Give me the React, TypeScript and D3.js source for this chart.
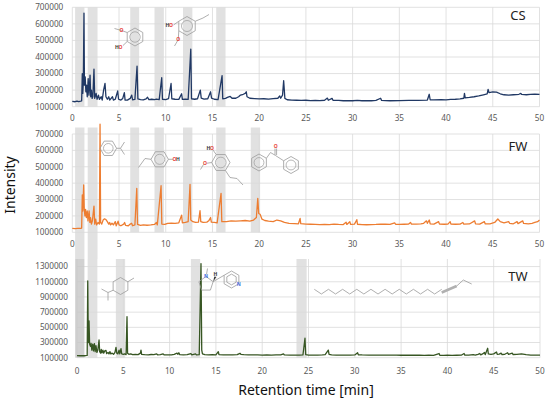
import React from "react";
import * as d3 from "d3";

type Pt = [number, number];

// retention time ticks (min) and intensity ticks
const timeTicks = [0, 5, 10, 15, 20, 25, 30, 35, 40, 45, 50];
const csTicks = [100000, 200000, 300000, 400000, 500000, 600000, 700000];
const fwTicks = [100000, 200000, 300000, 400000, 500000, 600000, 700000];
const twTicks = [100000, 300000, 500000, 700000, 900000, 1100000, 1300000];

// highlighted retention windows [start, end] in min
const csBands: Pt[] = [[0.3, 1.3], [1.65, 2.7], [6.2, 7.15], [8.8, 9.8], [11.85, 12.85], [15.4, 16.4]];
const fwBands: Pt[] = [[0.3, 1.3], [1.65, 2.7], [6.2, 7.15], [8.8, 9.8], [11.85, 12.85], [15.4, 16.4], [19.1, 20.1]];
const twBands: Pt[] = [[-0.2, 0.8], [1.15, 2.2], [4.2, 5.2], [12.3, 13.3], [23.7, 24.8]];

// chromatograms: [retention time, intensity]
const csTrace: Pt[] = [
  [0, 132000], [0.3, 130000], [0.5, 134000], [0.7, 131000], [0.9, 133000], [1.0, 135000],
  [1.07, 300000], [1.12, 180000], [1.18, 250000], [1.25, 665000], [1.3, 230000], [1.38, 280000],
  [1.45, 190000], [1.52, 230000], [1.6, 160000], [1.7, 270000], [1.78, 170000], [1.9, 290000],
  [1.97, 160000], [2.05, 200000], [2.12, 150000], [2.2, 160000], [2.32, 327000], [2.4, 150000],
  [2.55, 180000], [2.65, 145000], [2.8, 170000], [2.9, 145000], [3.1, 160000], [3.2, 140000],
  [3.35, 200000], [3.5, 241000], [3.6, 160000], [3.75, 145000], [3.9, 160000], [4.0, 140000],
  [4.3, 160000], [4.4, 140000], [4.6, 145000], [4.86, 195000], [4.95, 145000], [5.2, 140000],
  [5.4, 150000], [5.57, 185000], [5.65, 140000], [5.9, 140000], [6.2, 150000], [6.36, 170000],
  [6.45, 142000], [6.7, 144000], [6.93, 345000], [7.02, 147000], [7.3, 143000], [7.6, 141000],
  [7.9, 147000], [8.05, 157000], [8.2, 143000], [8.5, 145000], [8.8, 143000], [9.0, 146000],
  [9.3, 143000], [9.57, 275000], [9.65, 145000], [10.0, 143000], [10.3, 148000], [10.57, 240000],
  [10.65, 148000], [11.0, 145000], [11.4, 144000], [11.7, 178000], [11.78, 144000], [12.1, 146000],
  [12.4, 144000], [12.68, 448000], [12.76, 148000], [13.1, 145000], [13.4, 148000], [13.7, 200000],
  [13.8, 152000], [14.1, 146000], [14.5, 148000], [14.8, 190000], [14.9, 152000], [15.2, 145000],
  [15.6, 143000], [16.03, 287000], [16.1, 148000], [16.4, 150000], [16.6, 156000], [16.9, 162000],
  [17.1, 151000], [17.5, 151000], [17.8, 160000], [18.0, 170000], [18.3, 175000], [18.5, 180000],
  [18.62, 190000], [18.7, 160000], [19.0, 151000], [19.5, 149000], [20.0, 147000], [20.5, 148000],
  [21.0, 146000], [21.5, 149000], [22.0, 151000], [22.2, 165000], [22.3, 151000], [22.5, 170000],
  [22.62, 257000], [22.75, 150000], [23.0, 142000], [23.5, 140000], [24.0, 139000], [24.5, 138000],
  [25.0, 139000], [25.5, 137000], [26.0, 138000], [26.5, 137000], [27.0, 139000], [27.3, 152000],
  [27.4, 139000], [27.8, 150000], [27.9, 139000], [28.5, 138000], [29.0, 136000], [29.5, 137000],
  [30.0, 136000], [30.5, 138000], [31.0, 136000], [31.5, 137000], [32.0, 136000], [32.5, 138000],
  [33.0, 151000], [33.1, 138000], [33.5, 137000], [34.0, 136000], [35.0, 137000], [36.0, 138000],
  [37.0, 138000], [38.0, 140000], [38.2, 175000], [38.3, 142000], [38.7, 141000], [39.5, 142000],
  [40.0, 141000], [40.5, 144000], [41.0, 145000], [41.5, 147000], [41.9, 151000], [41.97, 180000],
  [42.05, 153000], [42.5, 156000], [43.0, 160000], [43.5, 165000], [44.0, 172000], [44.4, 178000],
  [44.5, 205000], [44.6, 185000], [45.0, 190000], [45.4, 188000], [45.8, 178000], [46.2, 172000],
  [46.7, 170000], [47.2, 172000], [47.8, 175000], [48.0, 180000], [48.1, 174000], [48.6, 172000],
  [49.0, 174000], [49.5, 176000], [50.0, 175000],
];

const fwTrace: Pt[] = [
  [0, 124000], [0.3, 123000], [0.6, 124000], [0.9, 124000], [1.0, 126000], [1.07, 328000],
  [1.12, 230000], [1.22, 389000], [1.28, 240000], [1.35, 200000], [1.42, 240000], [1.5, 190000],
  [1.6, 230000], [1.68, 170000], [1.8, 230000], [1.88, 160000], [1.95, 190000], [2.05, 150000],
  [2.15, 170000], [2.32, 260000], [2.4, 150000], [2.5, 180000], [2.6, 145000], [2.75, 160000],
  [2.9, 150000], [2.97, 760000], [3.03, 160000], [3.15, 150000], [3.3, 175000], [3.45, 182000],
  [3.6, 178000], [3.75, 165000], [3.9, 150000], [4.0, 160000], [4.1, 145000], [4.25, 155000],
  [4.4, 145000], [4.6, 165000], [4.7, 140000], [4.9, 168000], [5.0, 145000], [5.2, 140000],
  [5.5, 150000], [5.6, 160000], [5.7, 142000], [6.0, 140000], [6.2, 150000], [6.35, 155000],
  [6.45, 140000], [6.7, 145000], [6.9, 368000], [6.98, 148000], [7.3, 142000], [7.6, 145000],
  [8.0, 143000], [8.4, 145000], [8.8, 148000], [9.0, 160000], [9.1, 145000], [9.5, 384000],
  [9.58, 150000], [9.9, 148000], [10.2, 155000], [10.6, 156000], [11.0, 155000], [11.4, 158000],
  [11.7, 205000], [11.78, 158000], [12.1, 160000], [12.4, 165000], [12.6, 393000], [12.68, 175000],
  [12.9, 165000], [13.2, 160000], [13.5, 162000], [13.67, 232000], [13.75, 165000], [14.0, 160000],
  [14.4, 162000], [14.6, 170000], [14.8, 190000], [14.88, 162000], [15.2, 160000], [15.5, 158000],
  [15.92, 338000], [16.0, 165000], [16.5, 165000], [17.0, 170000], [17.5, 168000], [18.0, 170000],
  [18.5, 172000], [19.0, 168000], [19.4, 175000], [19.7, 190000], [19.85, 307000], [19.95, 215000],
  [20.1, 210000], [20.3, 180000], [20.6, 172000], [21.0, 168000], [21.5, 165000], [21.9, 175000],
  [22.3, 170000], [22.7, 160000], [23.2, 155000], [23.8, 153000], [24.2, 152000], [24.38, 185000],
  [24.45, 153000], [25.0, 150000], [25.5, 149000], [26.0, 148000], [26.5, 147000], [27.0, 148000],
  [27.5, 147000], [28.0, 150000], [28.5, 148000], [29.0, 147000], [29.3, 162000], [29.38, 148000],
  [29.7, 165000], [29.78, 148000], [30.2, 150000], [30.45, 177000], [30.52, 149000], [31.0, 147000],
  [31.5, 146000], [32.0, 147000], [32.5, 148000], [33.0, 150000], [33.5, 149000], [34.0, 148000],
  [34.5, 158000], [34.6, 149000], [35.0, 148000], [35.5, 149000], [36.0, 150000], [36.2, 160000],
  [36.3, 150000], [36.8, 150000], [37.3, 152000], [37.6, 155000], [37.9, 170000], [38.0, 155000],
  [38.2, 175000], [38.3, 152000], [38.7, 150000], [39.2, 165000], [39.3, 150000], [39.8, 149000],
  [40.2, 150000], [40.44, 165000], [40.52, 150000], [41.0, 149000], [41.5, 150000], [41.8, 160000],
  [41.9, 150000], [42.5, 151000], [43.06, 170000], [43.15, 152000], [43.6, 150000], [44.1, 165000],
  [44.2, 151000], [44.7, 152000], [45.2, 160000], [45.54, 181000], [45.8, 165000], [46.2, 158000],
  [46.7, 165000], [46.8, 155000], [47.2, 152000], [47.6, 165000], [47.7, 153000], [48.2, 170000],
  [48.3, 154000], [48.8, 152000], [49.2, 155000], [49.5, 160000], [49.8, 165000], [50.0, 175000],
];

const twTrace: Pt[] = [
  [0, 128000], [0.3, 126000], [0.6, 127000], [0.9, 126000], [1.1, 130000], [1.16, 1110000],
  [1.22, 300000], [1.3, 584000], [1.36, 280000], [1.45, 250000], [1.52, 290000], [1.6, 200000],
  [1.7, 280000], [1.78, 190000], [1.88, 285000], [1.96, 180000], [2.05, 260000], [2.15, 170000],
  [2.25, 200000], [2.38, 333000], [2.45, 180000], [2.55, 160000], [2.62, 210000], [2.7, 165000],
  [2.8, 200000], [2.88, 160000], [3.0, 190000], [3.13, 195000], [3.2, 155000], [3.35, 170000],
  [3.45, 150000], [3.56, 180000], [3.65, 150000], [3.8, 160000], [3.95, 145000], [4.1, 170000],
  [4.21, 237000], [4.3, 160000], [4.42, 150000], [4.54, 200000], [4.62, 150000], [4.75, 220000],
  [4.83, 150000], [5.0, 145000], [5.15, 150000], [5.3, 140000], [5.4, 640000], [5.46, 160000],
  [5.6, 145000], [5.8, 150000], [6.0, 140000], [6.3, 145000], [6.6, 140000], [6.85, 160000],
  [6.91, 200000], [6.98, 145000], [7.3, 140000], [7.7, 138000], [8.0, 142000], [8.3, 140000],
  [8.6, 150000], [8.7, 138000], [9.0, 140000], [9.3, 150000], [9.4, 138000], [9.8, 137000],
  [10.2, 138000], [10.5, 145000], [10.8, 160000], [10.9, 145000], [11.0, 165000], [11.1, 140000],
  [11.5, 138000], [11.9, 140000], [12.3, 155000], [12.4, 138000], [12.8, 150000], [12.9, 137000],
  [13.2, 140000], [13.39, 1340000], [13.47, 200000], [13.55, 150000], [13.8, 140000], [14.2, 138000],
  [14.6, 140000], [15.0, 138000], [15.26, 179000], [15.33, 140000], [15.8, 137000], [16.3, 138000],
  [16.8, 137000], [17.3, 140000], [17.6, 158000], [17.7, 145000], [18.0, 140000], [18.5, 137000],
  [19.0, 136000], [19.5, 137000], [20.0, 135000], [20.5, 136000], [21.0, 135000], [21.5, 136000],
  [22.0, 137000], [22.3, 150000], [22.4, 136000], [23.0, 135000], [23.5, 134000], [24.0, 134000],
  [24.4, 136000], [24.62, 356000], [24.7, 140000], [25.0, 135000], [25.5, 134000], [26.0, 135000],
  [26.5, 136000], [26.8, 140000], [27.14, 200000], [27.22, 145000], [27.5, 138000], [28.0, 135000],
  [28.5, 134000], [29.0, 135000], [29.5, 134000], [30.0, 136000], [30.3, 165000], [30.38, 138000],
  [30.8, 136000], [31.5, 135000], [32.0, 134000], [32.5, 135000], [33.0, 134000], [33.5, 133000],
  [34.0, 134000], [34.5, 133000], [35.0, 132000], [35.5, 133000], [36.0, 132000], [36.5, 133000],
  [37.0, 132000], [37.5, 131000], [38.0, 132000], [38.5, 131000], [39.1, 155000], [39.18, 132000],
  [39.6, 131000], [40.0, 132000], [40.5, 131000], [41.0, 132000], [41.5, 133000], [41.8, 155000],
  [41.88, 134000], [42.3, 133000], [42.8, 140000], [43.0, 135000], [43.3, 145000], [43.5, 155000],
  [43.6, 138000], [43.8, 150000], [44.0, 170000], [44.08, 140000], [44.35, 224000], [44.42, 150000],
  [44.7, 145000], [45.0, 150000], [45.3, 175000], [45.38, 145000], [45.6, 148000], [45.8, 160000],
  [45.9, 142000], [46.2, 145000], [46.5, 165000], [46.6, 143000], [47.0, 160000], [47.1, 142000],
  [47.5, 145000], [48.0, 150000], [48.5, 140000], [49.0, 135000], [49.5, 133000], [50.0, 133000],
];

const FONT = "'Noto Sans', 'Open Sans', sans-serif";

const panels = [
  { name: "CS", data: csTrace, color: "#203864", ticks: csTicks, bands: csBands, max: 700000,
    left: 72.3, right: 539.5, top: 7.3, bottom: 106.7, bandTop: 7.3, bandBottom: 106.7,
    bridge: 0, tickY: 121.3, labelY: 20 },
  { name: "FW", data: fwTrace, color: "#ed7d31", ticks: fwTicks, bands: fwBands, max: 700000,
    left: 72.3, right: 539.5, top: 134, bottom: 232.3, bandTop: 127.5, bandBottom: 232.3,
    bridge: 259, tickY: 247.3, labelY: 151 },
  { name: "TW", data: twTrace, color: "#375623", ticks: twTicks, bands: twBands, max: 1400000,
    left: 77, right: 540, top: 259, bottom: 357.7, bandTop: 259, bandBottom: 357.7,
    bridge: 0, tickY: 373.7, labelY: 281 },
];

const Panel = ({ p }: any) => {
  const x = d3.scaleLinear().domain([0, 50]).range([p.left, p.right]);
  const y = d3.scaleLinear().domain([100000, p.max]).range([p.bottom, p.top]);
  const line = d3.line<Pt>().x((d) => x(d[0])).y((d) => y(d[1]));
  const fmt = d3.format("d");
  return (
    <g>
      {p.ticks.map((t: number) => (
        <line key={"h" + t} x1={p.left} x2={p.right} y1={y(t)} y2={y(t)} stroke="#d9d9d9" strokeWidth={0.8} />
      ))}
      {timeTicks.map((t) => (
        <line key={"v" + t} x1={x(t)} x2={x(t)} y1={p.top} y2={p.bottom} stroke="#d9d9d9" strokeWidth={0.8} />
      ))}
      {p.bands.map((b: Pt, i: number) => {
        const bottom = p.bridge && i < 2 ? p.bridge : p.bandBottom;
        const dark = p.name === "TW" && i === 0;
        return (
          <rect key={"b" + i} x={x(b[0])} width={x(b[1]) - x(b[0])} y={p.bandTop} height={bottom - p.bandTop}
            fill={dark ? "#c6c6c6" : "#d9d9d9"} opacity={0.8} />
        );
      })}
      <path d={line(p.data) || ""} fill="none" stroke={p.color} strokeWidth={1.3} strokeLinejoin="round" />
      {p.ticks.map((t: number) => (
        <text key={"yl" + t} x={p.left - 9} y={y(t)} dy="0.35em" textAnchor="end" fontSize={8.2}
          fill="#595959" fontFamily={FONT}>{fmt(t)}</text>
      ))}
      {timeTicks.map((t) => (
        <text key={"xl" + t} x={x(t)} y={p.tickY} textAnchor="middle" fontSize={8.2}
          fill="#595959" fontFamily={FONT}>{t}</text>
      ))}
      <text x={518} y={p.labelY} textAnchor="middle" fontSize={13} fill="#222" fontFamily={FONT}>{p.name}</text>
    </g>
  );
};

// small helpers for the structure sketches
const vtx = (cx: number, cy: number, r: number, a: number): Pt => [
  cx + r * Math.cos((a * Math.PI) / 180),
  cy - r * Math.sin((a * Math.PI) / 180),
];
const ring = (cx: number, cy: number, r: number, start: number, n = 6) => {
  const pts = d3.range(n).map((i) => vtx(cx, cy, r, start + (360 / n) * i));
  return "M" + pts.map((q) => q.join(",")).join("L") + "Z";
};
const poly = (pts: Pt[]) => "M" + pts.map((q) => q.join(",")).join("L");

const GRAY = "#9a9a9a";
const RED = "#e8453c";
const BLUE = "#3f6fe0";

const Atom = ({ x, y, t, c }: any) => (
  <text x={x} y={y} dy="0.35em" textAnchor="middle" fontSize={5} fontWeight="bold" fill={c} fontFamily={FONT}>{t}</text>
);

const Aromatic = ({ cx, cy, r, start }: any) => (
  <g>
    <path d={ring(cx, cy, r, start)} fill="none" stroke={GRAY} strokeWidth={0.8} />
    <circle cx={cx} cy={cy} r={r * 0.58} fill="none" stroke={GRAY} strokeWidth={0.7} />
  </g>
);

const Structures = () => {
  const s = { fill: "none", stroke: GRAY, strokeWidth: 0.8 };
  // alkyne chain in TW panel
  const zig: Pt[] = d3.range(19).map((i) => [314.3 + i * 7.08, i % 2 === 0 ? 289.3 : 294]);
  return (
    <g>
      {/* guaiacol */}
      <Aromatic cx={135} cy={37} r={9} start={30} />
      <path {...s} d={poly([vtx(135, 37, 9, 150), [121.5, 30.5], [114.5, 28.5]])} />
      <path {...s} d={poly([vtx(135, 37, 9, 210), [123, 45.5]])} />
      <Atom x={121.5} y={30.5} t="O" c={RED} />
      <Atom x={117} y={47.5} t="H" c="#333" /><Atom x={120.5} y={47.5} t="O" c={RED} />
      {/* 4-ethylguaiacol */}
      <Aromatic cx={187} cy={26} r={9.5} start={30} />
      <path {...s} d={poly([vtx(187, 26, 9.5, 150), [173.5, 25]])} />
      <path {...s} d={poly([vtx(187, 26, 9.5, 30), [203, 18], [209, 14.5]])} />
      <path {...s} d={poly([vtx(187, 26, 9.5, 210), [178.3, 39.5], [174.5, 46]])} />
      <Atom x={167.5} y={25} t="H" c="#333" /><Atom x={171} y={25} t="O" c={RED} />
      <Atom x={178.3} y={39.5} t="O" c={RED} />
      {/* cumene */}
      <Aromatic cx={108.3} cy={148.3} r={8.3} start={0} />
      <path {...s} d={poly([vtx(108.3, 148.3, 8.3, 0), [120.5, 148.3], [124.5, 142]])} />
      <path {...s} d={poly([[120.5, 148.3], [124.5, 154.5]])} />
      {/* 4-ethylphenol */}
      <Aromatic cx={159.7} cy={159.3} r={8.7} start={0} />
      <path {...s} d={poly([vtx(159.7, 159.3, 8.7, 180), [145, 158.5], [138.5, 167.5]])} />
      <path {...s} d={poly([vtx(159.7, 159.3, 8.7, 0), [172.8, 159.3]])} />
      <Atom x={174.5} y={159.3} t="O" c={RED} /><Atom x={177.8} y={159.3} t="H" c="#333" />
      {/* 2-methoxy-4-propylphenol */}
      <Aromatic cx={220.8} cy={162.5} r={9.2} start={0} />
      <path {...s} d={poly([vtx(220.8, 162.5, 9.2, 120), [213, 150]])} />
      <path {...s} d={poly([vtx(220.8, 162.5, 9.2, 180), [206.5, 163.3]])} />
      <path {...s} d={poly([[203.5, 164.5], [200.5, 169.5]])} />
      <path {...s} d={poly([vtx(220.8, 162.5, 9.2, 300), [230, 177.5], [237, 178.5], [243, 185]])} />
      <Atom x={208.5} y={148} t="H" c="#333" /><Atom x={212} y={148} t="O" c={RED} />
      <Atom x={205} y={163.5} t="O" c={RED} />
      {/* deoxybenzoin */}
      <Aromatic cx={259} cy={162.5} r={8.5} start={30} />
      <path {...s} d={poly([vtx(259, 162.5, 8.5, 30), [270.5, 152.5], [275.5, 155.5], vtx(291, 165, 8.5, 150)])} />
      <path {...s} d={poly([[275, 155], [275, 148.5]])} />
      <path {...s} d={poly([[276.6, 155], [276.6, 148.5]])} />
      <Atom x={275.8} y={146.5} t="O" c={RED} />
      <Aromatic cx={291} cy={165} r={8.5} start={30} />
      {/* p-menthane */}
      <path {...s} d={ring(120.5, 286, 8.5, 30)} />
      <path {...s} d={poly([vtx(120.5, 286, 8.5, 30), [134, 278]])} />
      <path {...s} d={poly([vtx(120.5, 286, 8.5, 210), [108, 292.5], [101.5, 289]])} />
      <path {...s} d={poly([[108, 292.5], [108, 300.5]])} />
      {/* nicotine */}
      <path {...s} d={ring(206, 284, 7.5, 90, 5)} />
      <path {...s} d={poly([[206.5, 274.5], [207.5, 268.5]])} />
      <Atom x={206} y={276.5} t="N" c={BLUE} />
      <path {...s} d={poly([vtx(206, 284, 7.5, 18), vtx(231.5, 279.5, 8.5, 150)])} />
      <path d={poly([vtx(206, 284, 7.5, 18), [214.3, 276.5], [216.3, 276.9]])} fill="#333" />
      <Atom x={215.3} y={274} t="H" c="#333" />
      <path {...s} d={ring(231.5, 279.5, 8.5, 30)} />
      <path {...s} d={ring(231.5, 279.5, 5.4, 30)} />
      <Atom x={238.9} y={283.8} t="N" c={BLUE} />
      {/* long-chain alkyne */}
      <path {...s} d={poly(zig)} />
      <path d={poly([[441.7, 292.5], [456.7, 286]])} stroke="#b0b0b0" strokeWidth={2.6} />
      <path {...s} d={poly([[456.7, 286], [463.3, 280], [471.7, 284]])} />
    </g>
  );
};

export default function App() {
  return (
    <div style={{ position: "absolute", left: 0, top: 0 }}>
      <svg width={550} height={402} style={{ display: "block", background: "#fff" }}>
        {panels.map((p) => (
          <Panel key={p.name} p={p} />
        ))}
        <Structures />
        <text transform="translate(15,185) rotate(-90)" textAnchor="middle" fontSize={14} fill="#111" fontFamily={FONT}>
          Intensity
        </text>
        <text x={306} y={395} textAnchor="middle" fontSize={14} fill="#111" fontFamily={FONT}>
          Retention time [min]
        </text>
      </svg>
    </div>
  );
}
